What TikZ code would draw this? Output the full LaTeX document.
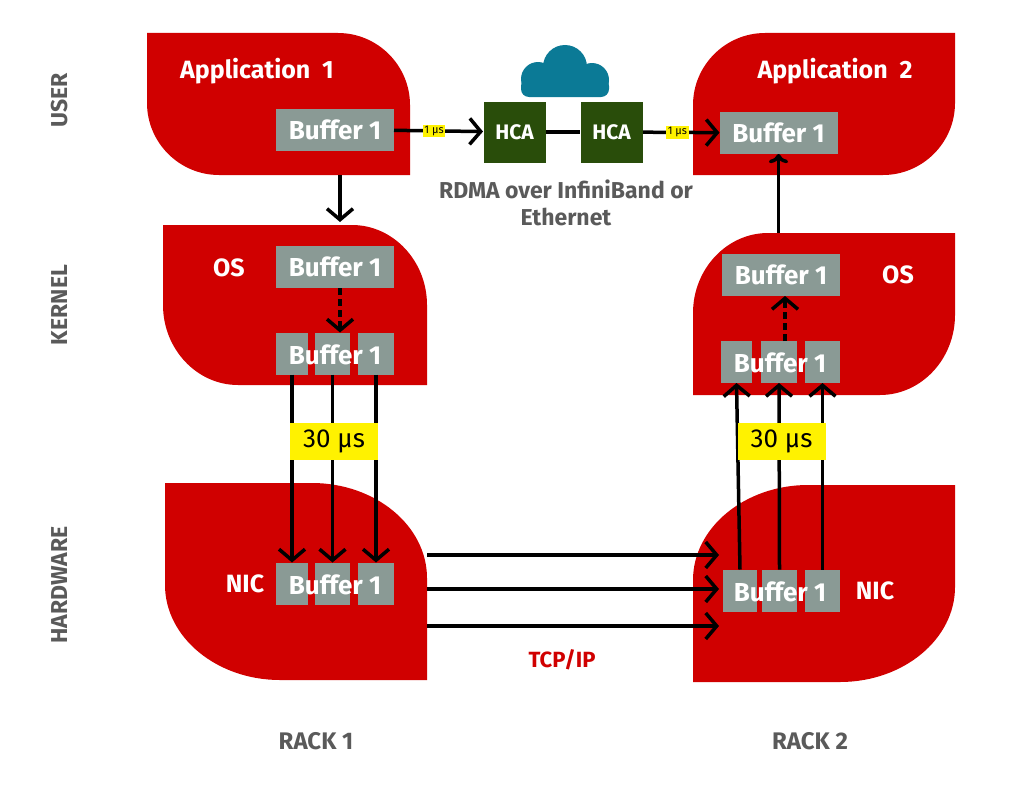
\documentclass[tikz,border=0pt]{standalone}
\usepackage{fontspec}
\setmainfont{Fira Sans}
\usetikzlibrary{arrows.meta}
\definecolor{rackred}{HTML}{D00000}
\definecolor{bufgray}{HTML}{8A9A95}
\definecolor{hcagreen}{HTML}{294D0A}
\definecolor{cloudblue}{HTML}{0B7A96}
\definecolor{labgray}{HTML}{5A5A5A}
\tikzset{%
    buf/.style={inner sep=0pt,outer sep=0pt,fill=bufgray,minimum height=42,minimum width=118},
    part/.style={inner sep=0pt,outer sep=0pt,fill=bufgray,minimum height=42},
    buftext/.style={text=white,font=\bfseries\fontsize{26}{26}\selectfont},
    title/.style={text=white,font=\bfseries\fontsize{25}{25}\selectfont},
    hca/.style={inner sep=0pt,outer sep=0pt,fill=hcagreen,draw=white,minimum width=63,minimum height=62,text=white,font=\bfseries\fontsize{21}{21}\selectfont},
    flow/.style={-{Straight Barb[length=11pt,width=26pt]},line width=3.5pt},
    us/.style={fill=yellow,inner sep=1.5pt,font=\fontsize{11}{11}\selectfont},
    bigus/.style={fill=yellow,inner sep=3pt,minimum width=88,minimum height=37,font=\fontsize{26}{26}\selectfont},
    side/.style={rotate=90,text=labgray,font=\bfseries\fontsize{23}{23}\selectfont},
    rack/.style={text=labgray,font=\bfseries\fontsize{24}{24}\selectfont},
}
% left blob: rounded top right and bottom left
\newcommand{\lblob}[6]{%
  \fill[rackred] (#1,#2) -- ({#3-#5},#2) .. controls ({#3-0.45*#5},#2) and (#3,{#2+0.45*#6}) .. (#3,{#2+#6})
    -- (#3,#4) -- ({#1+#5},#4) .. controls ({#1+0.45*#5},#4) and (#1,{#4-0.45*#6}) .. (#1,{#4-#6}) -- cycle;}
% right blob: rounded top left and bottom right
\newcommand{\rblob}[6]{%
  \fill[rackred] (#3,#2) -- (#3,{#4-#6}) .. controls (#3,{#4-0.45*#6}) and ({#3-0.45*#5},#4) .. ({#3-#5},#4)
    -- (#1,#4) -- (#1,{#2+#6}) .. controls (#1,{#2+0.45*#6}) and ({#1+0.45*#5},#2) .. ({#1+#5},#2) -- cycle;}

\begin{document}
\begin{tikzpicture}[x=1pt,y=-1pt]
	\useasboundingbox (0,0) rectangle (1024,792);
	
	%red blocks
	\lblob{147}{33}{410}{175}{72}{72}
	\lblob{163}{225}{427}{385}{75}{80}
	\lblob{165}{483}{427}{680}{115}{95}
	\rblob{693}{33}{955}{175}{72}{72}
	\rblob{693}{233}{955}{395}{75}{80}
	\rblob{693}{485}{955}{682}{115}{95}
	
	%titles
	\node[title] at (257,71) {Application\ \ 1};
	\node[title] at (835,71) {Application\ \ 2};
	\node[title] at (229,268) {OS};
	\node[title] at (898,275) {OS};
	\node[title] at (245,584) {NIC};
	\node[title] at (875,591) {NIC};
	
	%buffers rack 1
	\node[buf,buftext] (app1) at (335,129.5) {Buffer 1};
	\node[buf,buftext] (os1) at (335,267) {Buffer 1};
	\node[part,minimum width=32] (os1a) at (292,353.5) {};
	\node[part,minimum width=35] (os1b) at (332.5,353.5) {};
	\node[part,minimum width=36] (os1c) at (376,353.5) {};
	\node[buftext] at (335,355) {Buffer 1};
	\node[part,minimum width=32] (nic1a) at (292,583.5) {};
	\node[part,minimum width=35] (nic1b) at (332.5,583.5) {};
	\node[part,minimum width=36] (nic1c) at (376,583.5) {};
	\node[buftext] at (335,585) {Buffer 1};
	
	%buffers rack 2
	\node[buf,buftext] (app2) at (778.5,133) {Buffer 1};
	\node[buf,buftext] (os2) at (781,275) {Buffer 1};
	\node[part,minimum width=31] (os2a) at (736.5,362) {};
	\node[part,minimum width=36] (os2b) at (779,362) {};
	\node[part,minimum width=35] (os2c) at (822.5,362) {};
	\node[buftext] at (780,363) {Buffer 1};
	\node[part,minimum width=34] (nic2a) at (740,590.5) {};
	\node[part,minimum width=35] (nic2b) at (779.5,590.5) {};
	\node[part,minimum width=35] (nic2c) at (822.5,590.5) {};
	\node[buftext] at (780,592) {Buffer 1};
	
	%RDMA path
	\node[hca] (hca1) at (514.5,132) {HCA};
	\node[hca] (hca2) at (611.5,132) {HCA};
	\draw[line width=3.5pt] (hca1) -- (hca2);
	\draw[flow] (app1) -- (hca1) node[us,pos=0.45] {1 µs};
	\draw[flow] (hca2) -- (app2) node[us,pos=0.45] {1 µs};
	\fill[cloudblue] (538,79) circle (17);
	\fill[cloudblue] (565,67) circle (22);
	\fill[cloudblue] (592,80) circle (17);
	\fill[cloudblue,rounded corners=8] (521,78) rectangle (609,97);
	\node[text=labgray,font=\bfseries\fontsize{23}{23}\selectfont,align=center] (rdma) at (566,203) {RDMA over InfiniBand or\\[4pt]Ethernet};
	
	%vertical flows
	\coordinate (down1) at (340,222);
	\draw[flow] (340,175) -- (down1);
	\draw[flow,dash pattern=on 7pt off 4pt] (os1.south -| 340,0) -- (os1b.north -| 340,0);
	\draw[flow,<-] (app2.south) -- (778.5,233);
	\draw[flow,dash pattern=on 7pt off 4pt] (os2b.north -| 785,0) -- (os2.south -| 785,0);
	\foreach \a/\b in {os1a/nic1a,os1b/nic1b,os1c/nic1c}
		\draw[flow] (\a.south) -- (\b.north);
	\foreach \a/\b in {nic2a/os2a,nic2b/os2b,nic2c/os2c}
		\draw[flow] (\a.north) -- (\b.south);
	\node[bigus] at (334,441) {30 µs};
	\node[bigus] at (781.5,441) {30 µs};
	
	%TCP/IP
	\foreach \y in {555,589,626}
		\draw[flow] (427,\y) -- (719,\y);
	\node[text=rackred,font=\bfseries\fontsize{22}{22}\selectfont] at (562,660) {TCP/IP};
	
	%side labels
	\node[side] at (60,100) {USER};
	\node[side] at (60,305) {KERNEL};
	\node[side] at (60,585) {HARDWARE};
	\node[rack] at (316,741) {RACK 1};
	\node[rack] at (810,741) {RACK 2};
	
\end{tikzpicture}
\end{document}
